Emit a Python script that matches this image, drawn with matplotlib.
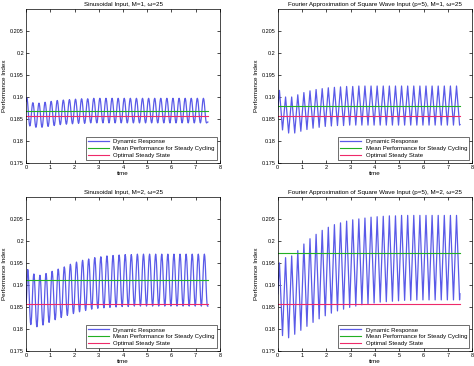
import numpy as np
import matplotlib.pyplot as plt

plt.rcParams['font.family'] = ['Liberation Sans', 'DejaVu Sans']
plt.rcParams['path.simplify'] = False

# 各子图的数据（从图上读取的极值：每个周期的峰值与谷值）
omega = 25.0
t_end = 7.5

titles = ['Sinusoidal Input, M=1, \u03c9=25',
          'Fourier Approximation of Square Wave Input (p=5), M=1, \u03c9=25',
          'Sinusoidal Input, M=2, \u03c9=25',
          'Fourier Approximation of Square Wave Input (p=5), M=2, \u03c9=25']

start_vals = [0.1890, 0.1870, 0.1860, 0.1880]
end_vals = [0.1843, 0.1837, 0.1852, 0.1880]

tl_peaks = [0.1898, 0.1887, 0.1886, 0.1888, 0.1890, 0.1892, 0.1893, 0.1894, 0.1895, 0.1896,
            0.1896, 0.1897, 0.1897, 0.1897, 0.1897, 0.1897, 0.1897, 0.1897, 0.1897, 0.1897,
            0.1897, 0.1897, 0.1897, 0.1897, 0.1897, 0.1897, 0.1897, 0.1897, 0.1897, 0.1897]
tl_troughs = [0.1834, 0.1831, 0.1831, 0.1833, 0.1835, 0.1837, 0.1838, 0.1839, 0.1840, 0.1840,
              0.1841, 0.1841, 0.1841, 0.1841, 0.1841, 0.1841, 0.1841, 0.1841, 0.1841, 0.1841,
              0.1841, 0.1841, 0.1841, 0.1841, 0.1841, 0.1841, 0.1841, 0.1841, 0.1841, 0.1841]

tr_peaks = [0.1915, 0.1900, 0.1900, 0.1905, 0.1910, 0.1914, 0.1917, 0.1919, 0.1921, 0.1922,
            0.1923, 0.1924, 0.1924, 0.1925, 0.1925, 0.1925, 0.1925, 0.1925, 0.1925, 0.1925,
            0.1925, 0.1925, 0.1925, 0.1925, 0.1925, 0.1925, 0.1925, 0.1925, 0.1925, 0.1925]
tr_troughs = [0.1825, 0.1818, 0.1818, 0.1822, 0.1826, 0.1829, 0.1831, 0.1833, 0.1834, 0.1835,
              0.1835, 0.1836, 0.1836, 0.1836, 0.1836, 0.1836, 0.1836, 0.1836, 0.1836, 0.1836,
              0.1836, 0.1836, 0.1836, 0.1836, 0.1836, 0.1836, 0.1836, 0.1836, 0.1836, 0.1836]

bl_peaks = [0.1935, 0.1925, 0.1922, 0.1926, 0.1931, 0.1936, 0.1941, 0.1947, 0.1952, 0.1956,
            0.1959, 0.1962, 0.1964, 0.1966, 0.1967, 0.1968, 0.1969, 0.1969, 0.1970, 0.1970,
            0.1970, 0.1970, 0.1970, 0.1970, 0.1970, 0.1970, 0.1970, 0.1970, 0.1970, 0.1970]
bl_troughs = [0.1810, 0.1805, 0.1809, 0.1815, 0.1821, 0.1826, 0.1831, 0.1835, 0.1839, 0.1842,
              0.1845, 0.1847, 0.1848, 0.1849, 0.1850, 0.1851, 0.1851, 0.1852, 0.1852, 0.1852,
              0.1852, 0.1852, 0.1852, 0.1852, 0.1852, 0.1852, 0.1852, 0.1852, 0.1852, 0.1852]

br_peaks = [0.1950, 0.1962, 0.1966, 0.1978, 0.1993, 0.2005, 0.2015, 0.2024, 0.2031, 0.2037,
            0.2041, 0.2045, 0.2048, 0.2050, 0.2052, 0.2054, 0.2055, 0.2056, 0.2057, 0.2057,
            0.2058, 0.2058, 0.2058, 0.2058, 0.2058, 0.2058, 0.2058, 0.2058, 0.2058, 0.2058]
br_troughs = [0.1785, 0.1780, 0.1788, 0.1797, 0.1806, 0.1815, 0.1823, 0.1830, 0.1836, 0.1841,
              0.1845, 0.1849, 0.1852, 0.1855, 0.1857, 0.1859, 0.1861, 0.1862, 0.1863, 0.1864,
              0.1865, 0.1865, 0.1866, 0.1866, 0.1866, 0.1866, 0.1866, 0.1866, 0.1866, 0.1866]

peaks = [tl_peaks, tr_peaks, bl_peaks, br_peaks]
troughs = [tl_troughs, tr_troughs, bl_troughs, br_troughs]
first_peak_t = [0.03, 0.07, 0.07, 0.07]

mean_perf = [0.1868, 0.1880, 0.1912, 0.1972]
optimal = [0.18575, 0.18575, 0.18575, 0.18575]

# 子图位置（像素换算为比例）
positions = [[0.055, 0.555, 0.409, 0.42],
             [0.586, 0.555, 0.41, 0.42],
             [0.055, 0.041, 0.409, 0.421],
             [0.586, 0.041, 0.41, 0.421]]

blue = '#5a5ae8'
green = '#22b022'
red = '#ee2a6a'


def build_curve(i):
    period = 2 * np.pi / omega
    tp = first_peak_t[i] + np.arange(len(peaks[i])) * period
    tt = tp + period / 2
    ts = [0.0]
    vs = [start_vals[i]]
    for k in range(len(peaks[i])):
        ts += [tp[k], tt[k]]
        vs += [peaks[i][k], troughs[i][k]]
    ts.append(t_end)
    vs.append(end_vals[i])
    ts = np.array(ts)
    vs = np.array(vs)
    keep = ts <= t_end
    ts, vs = ts[keep], vs[keep]
    if i % 2 == 1:
        return ts, vs  # 方波傅里叶近似：尖峰，直接连线
    # 正弦：极值之间用半余弦平滑
    xx, yy = [], []
    for k in range(len(ts) - 1):
        s = np.linspace(0, 1, 8, endpoint=False)
        xx.extend(ts[k] + (ts[k + 1] - ts[k]) * s)
        yy.extend(vs[k] + (vs[k + 1] - vs[k]) * (1 - np.cos(np.pi * s)) / 2)
    xx.append(ts[-1])
    yy.append(vs[-1])
    return np.array(xx), np.array(yy)


fig = plt.figure(figsize=(4.74, 3.66), dpi=100)

for i in range(4):
    ax = fig.add_axes(positions[i])
    x, y = build_curve(i)
    ax.plot(x, y, color=blue, lw=0.9, snap=False, label='Dynamic Response')
    ax.plot([0, t_end], [mean_perf[i], mean_perf[i]], color=green, lw=0.8,
            label='Mean Performance for Steady Cycling')
    ax.plot([0, t_end], [optimal[i], optimal[i]], color=red, lw=0.8,
            label='Optimal Steady State')
    ax.set_xlim(0, 8)
    ax.set_ylim(0.175, 0.21)
    ax.set_xticks(range(9))
    ax.set_yticks([0.175, 0.18, 0.185, 0.19, 0.195, 0.2, 0.205])
    ax.set_yticklabels(['0.175', '0.18', '0.185', '0.19', '0.195', '0.2', '0.205'])
    ax.tick_params(direction='in', length=2, width=0.5, labelsize=4, pad=1.5,
                   top=True, right=True)
    for sp in ax.spines.values():
        sp.set_linewidth(0.5)
    ax.set_title(titles[i], fontsize=4.5, pad=2)
    ax.set_xlabel('time', fontsize=4.5, labelpad=1)
    ax.set_ylabel('Performance Index', fontsize=4.5, labelpad=2)
    leg = ax.legend(loc='lower right', fontsize=4.3, frameon=True, fancybox=False,
                    borderpad=0.35, labelspacing=0.25, handlelength=3.4,
                    borderaxespad=0.5, edgecolor='black')
    leg.get_frame().set_linewidth(0.5)

fig.savefig('out.png', dpi=100)
